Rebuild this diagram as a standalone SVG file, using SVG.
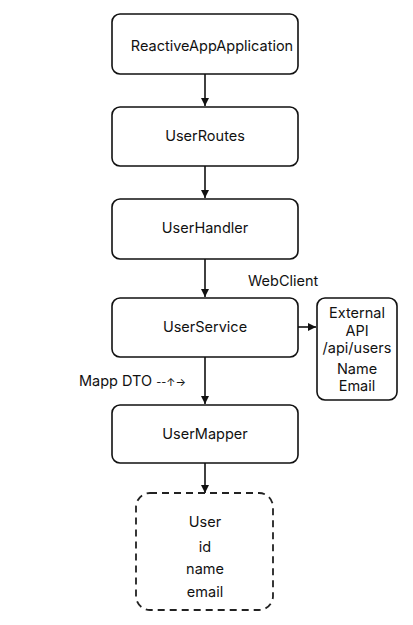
<svg xmlns="http://www.w3.org/2000/svg" width="413" height="625" viewBox="0 0 413 625">
<defs>
<marker id="ah" markerWidth="10" markerHeight="10" refX="9" refY="5" orient="auto" markerUnits="userSpaceOnUse"><path d="M1,1 L9,5 L1,9 Z" fill="#111"/></marker>
<style>
.box{fill:#fff;stroke:#111;stroke-width:1.6}
.dash{fill:#fff;stroke:#222;stroke-width:1.8;stroke-dasharray:7,5}
text{font-family:"Inter","Liberation Sans",sans-serif;font-size:14.5px;fill:#111;text-anchor:middle}
.lbl{text-anchor:start}
.edge{stroke:#111;stroke-width:1.6;fill:none;marker-end:url(#ah)}
</style>
</defs>
<rect width="413" height="625" fill="#fff"/>
<g id="connectors">
<line class="edge" x1="205" y1="74" x2="205" y2="106"/>
<line class="edge" x1="205" y1="166" x2="205" y2="198"/>
<line class="edge" x1="205" y1="259" x2="205" y2="297"/>
<line class="edge" x1="298" y1="327" x2="316" y2="327"/>
<line class="edge" x1="205" y1="357" x2="205" y2="404"/>
<line class="edge" x1="205" y1="463" x2="205" y2="493"/>
<text class="lbl" x="248" y="286">WebClient</text>
<text class="lbl" x="79" y="386">Mapp DTO <tspan font-size="11">--↑→</tspan></text>
</g>
<g id="ReactiveAppApplication"><rect class="box" x="112" y="14" width="186" height="60" rx="8"/><text x="212" y="51">ReactiveAppApplication</text></g>
<g id="UserRoutes"><rect class="box" x="112" y="107" width="186" height="59" rx="8"/><text x="205" y="141">UserRoutes</text></g>
<g id="UserHandler"><rect class="box" x="112" y="199" width="186" height="60" rx="8"/><text x="205" y="233">UserHandler</text></g>
<g id="UserService"><rect class="box" x="112" y="298" width="186" height="59" rx="8"/><text x="205" y="332">UserService</text></g>
<g id="ExternalAPI"><rect class="box" x="317" y="298" width="80" height="102" rx="8"/>
<text x="357" y="318">External</text><text x="357" y="336">API</text><text x="357" y="353">/api/users</text><text x="357" y="374">Name</text><text x="357" y="391">Email</text></g>
<g id="UserMapper"><rect class="box" x="112" y="405" width="186" height="58" rx="8"/><text x="205" y="439">UserMapper</text></g>
<g id="User"><rect class="dash" x="136" y="493" width="137" height="117" rx="14"/>
<text x="205" y="527">User</text><text x="205" y="552">id</text><text x="205" y="574">name</text><text x="205" y="597">email</text></g>
</svg>
